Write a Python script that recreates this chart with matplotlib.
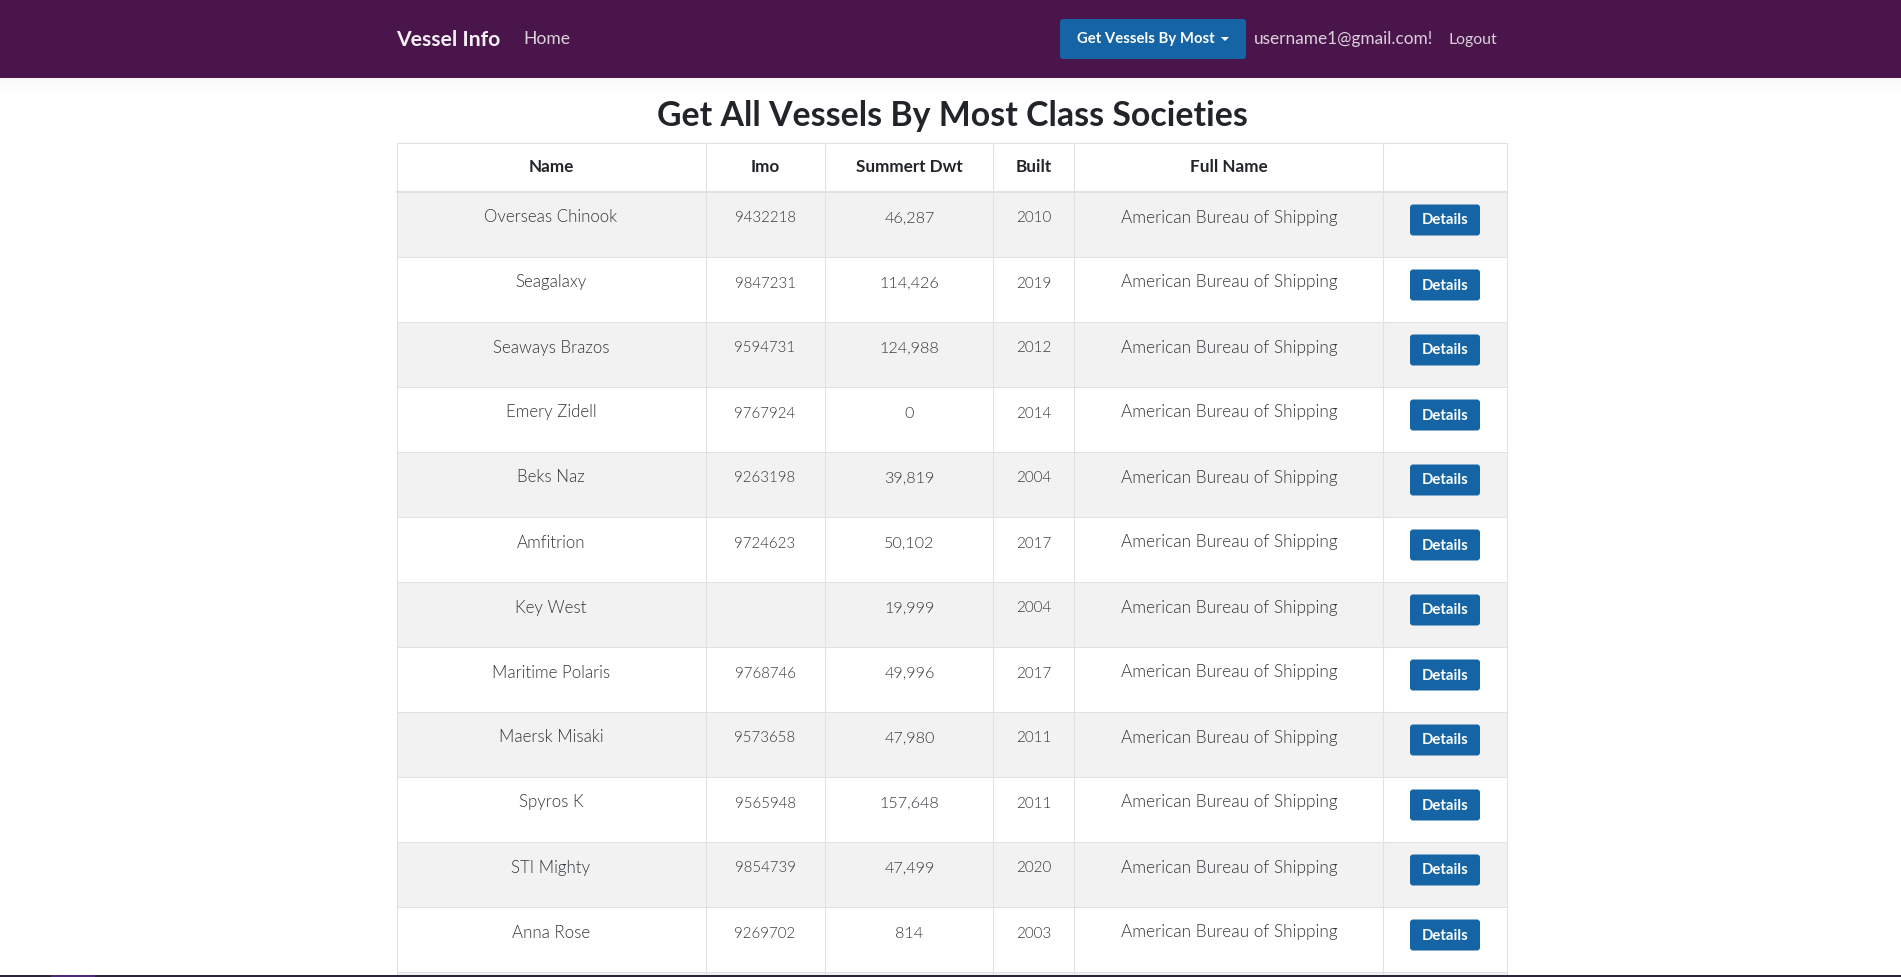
import matplotlib
matplotlib.use("Agg")
import matplotlib.pyplot as plt
from matplotlib.patches import FancyBboxPatch, Polygon, Rectangle

plt.rcParams['font.family'] = ['Lato', 'DejaVu Sans']

# table content
headers = ['Name', 'Imo', 'Summert Dwt', 'Built', 'Full Name', '']
names = ['Overseas Chinook', 'Seagalaxy', 'Seaways Brazos', 'Emery Zidell', 'Beks Naz', 'Amfitrion',
         'Key West', 'Maritime Polaris', 'Maersk Misaki', 'Spyros K', 'STI Mighty', 'Anna Rose']
imos = ['9432218', '9847231', '9594731', '9767924', '9263198', '9724623',
        '', '9768746', '9573658', '9565948', '9854739', '9269702']
dwts = ['46,287', '114,426', '124,988', '0', '39,819', '50,102',
        '19,999', '49,996', '47,980', '157,648', '47,499', '814']
built = ['2010', '2019', '2012', '2014', '2004', '2017',
         '2004', '2017', '2011', '2011', '2020', '2003']
society = ['American Bureau of Shipping'] * 12

# layout in pixels
col_edges = [397, 706, 825, 992.5, 1074, 1383, 1506.5]
col_mid = [551, 765, 909.5, 1034, 1229, 1445]
col_size = [12.2, 10.8, 11.6, 11, 12.4]
col_dy = [0, 1, 1, 1, 0]
table_top = 142.5
header_bottom = 192
row_h = 65

NAV = '#4a154b'
BLUE = '#1565a6'
GRID = '#dee2e6'
INK = '#212529'
BODY = '#33373b'

fig = plt.figure(figsize=(19.01, 9.77), dpi=100)
ax = fig.add_axes([0, 0, 1, 1])
ax.set_xlim(0, 1901)
ax.set_ylim(977, 0)
ax.axis('off')


def button(x0, y0, w, h):
    ax.add_patch(FancyBboxPatch((x0 + 3, y0 + 3), w - 6, h - 6, boxstyle='round,pad=3,rounding_size=3',
                                fc=BLUE, ec='none', zorder=3))


# navbar and its soft shadow
ax.add_patch(Rectangle((0, 0), 1901, 78, fc=NAV, ec='none', zorder=2))
for i in range(14):
    ax.add_patch(Rectangle((0, 78 + i), 1901, 1, fc='black', alpha=0.03 * (1 - i / 14), ec='none', zorder=1))

ax.text(396, 39.5, 'Vessel Info', fontsize=15.2, fontweight='bold', color='#f4eff4', va='center', ha='left', zorder=4)
ax.text(523.5, 39, 'Home', fontsize=12.6, color='#dbd0db', va='center', ha='left', zorder=4)
button(1060, 19, 186, 40)
ax.text(1077, 39.5, 'Get Vessels By Most', fontsize=10.7, fontweight='bold', color='white', va='center', ha='left', zorder=4)
ax.add_patch(Polygon([(1221, 37), (1229, 37), (1225, 41)], fc='white', ec='none', zorder=4))
ax.text(1254, 39, 'username1@gmail.com!', fontsize=12.4, color='#dbd0db', va='center', ha='left', zorder=4)
ax.text(1449, 40, 'Logout', fontsize=11.4, color='#dbd0db', va='center', ha='left', zorder=4)

ax.text(952, 116, 'Get All Vessels By Most Class Societies', fontsize=24.4, fontweight='bold', color=INK,
        va='center', ha='center')

# striped rows
n_rows = len(names)
table_bottom = header_bottom + n_rows * row_h
for i in range(n_rows):
    top = header_bottom + i * row_h
    if i % 2 == 0:
        ax.add_patch(Rectangle((col_edges[0], top), col_edges[-1] - col_edges[0], row_h, fc='#f2f2f2', ec='none', zorder=1))
ax.add_patch(Rectangle((col_edges[0], table_bottom), col_edges[-1] - col_edges[0], 5, fc='#f2f2f2', ec='none', zorder=1))

# grid lines
for x in col_edges:
    ax.plot([x, x], [table_top, 975], color=GRID, lw=0.75, zorder=2)
ax.plot([col_edges[0], col_edges[-1]], [table_top, table_top], color=GRID, lw=0.75, zorder=2)
ax.plot([col_edges[0], col_edges[-1]], [header_bottom, header_bottom], color=GRID, lw=1.5, zorder=2)
for i in range(1, n_rows + 1):
    y = header_bottom + i * row_h
    ax.plot([col_edges[0], col_edges[-1]], [y, y], color=GRID, lw=0.75, zorder=2)

# header
for x, label in zip(col_mid, headers):
    ax.text(x, 166.5, label, fontsize=12.3, fontweight='bold', color=INK, va='center', ha='center', zorder=4)

# body
for i in range(n_rows):
    top = header_bottom + i * row_h
    y = top + 25.5
    row = [names[i], imos[i], dwts[i], built[i], society[i]]
    for x, value, size, dy in zip(col_mid, row, col_size, col_dy):
        ax.text(x, y + dy, value, fontsize=size, fontweight=300, color=BODY, va='center', ha='center', zorder=4)
    button(1410, top + 12.5, 70, 31)
    ax.text(1445, top + 28.5, 'Details', fontsize=10.7, fontweight='bold', color='white',
            va='center', ha='center', zorder=4)

# dark strip along the bottom edge
ax.add_patch(Rectangle((0, 975), 1901, 2, fc='#2a2438', ec='none', zorder=5))
ax.add_patch(Rectangle((51, 975), 44, 2, fc='#4b2a78', ec='none', zorder=6))

fig.savefig('out.png', dpi=100)
